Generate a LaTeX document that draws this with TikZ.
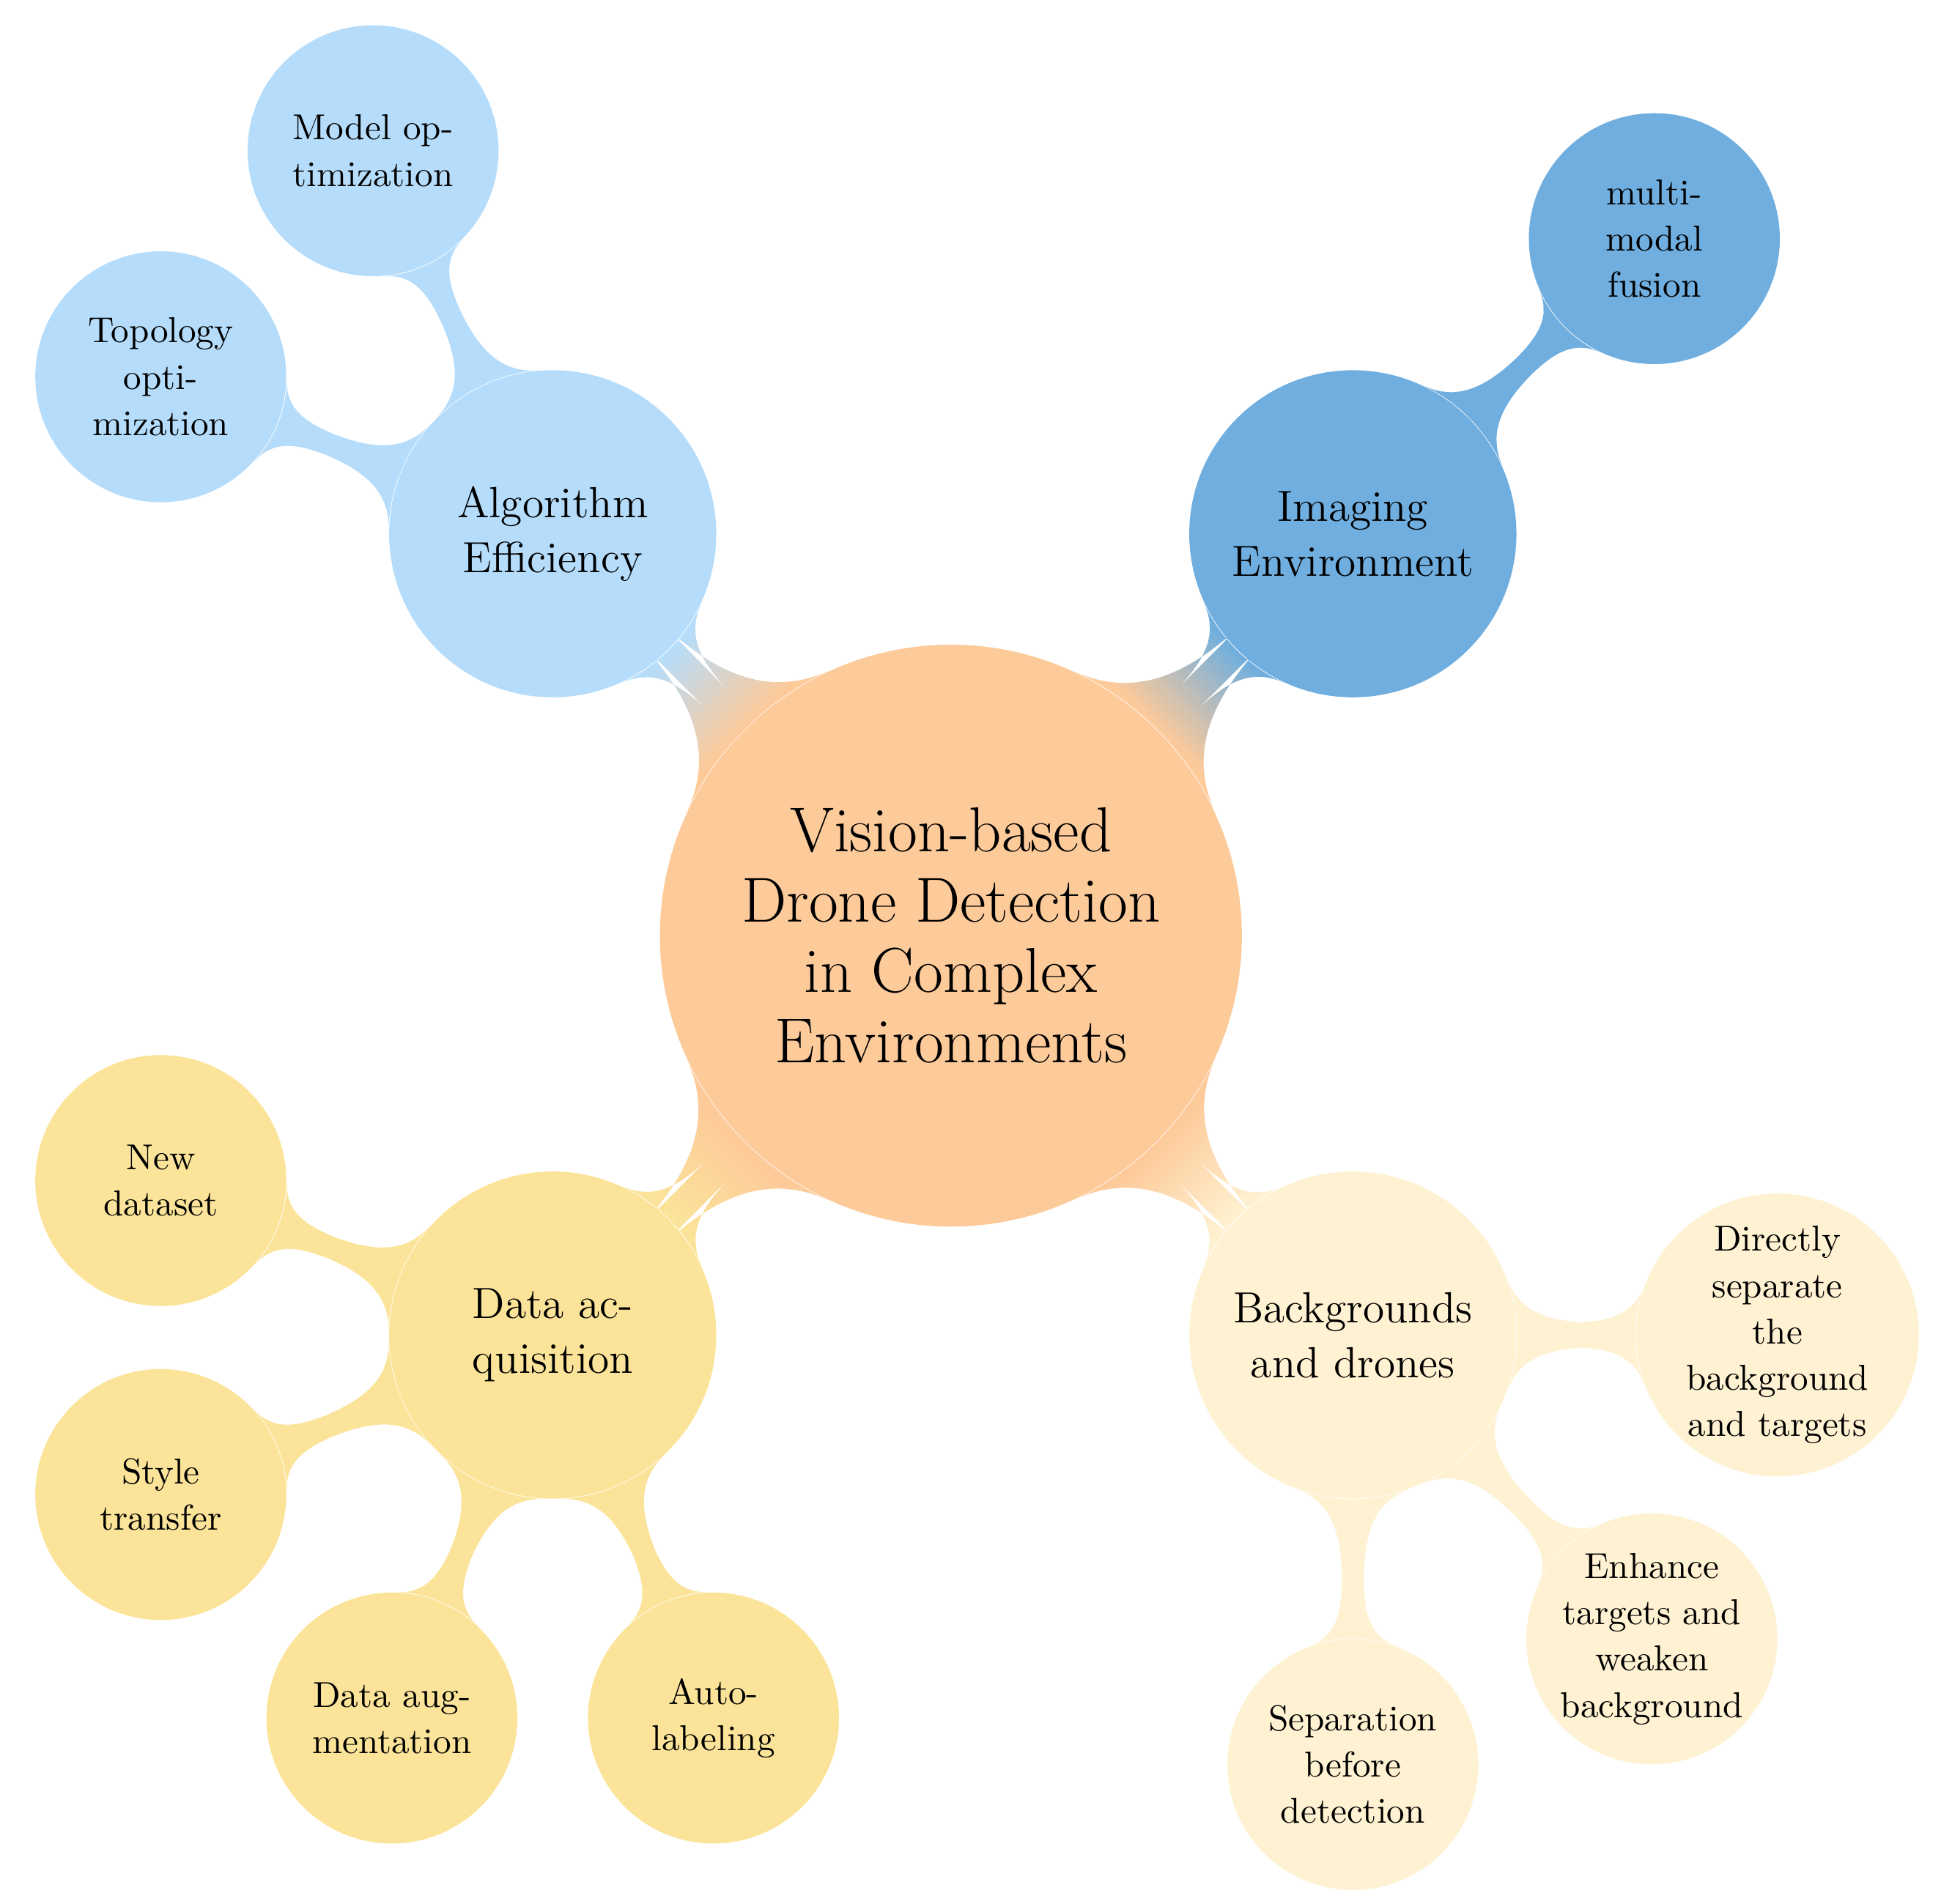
\documentclass[tikz,border=0pt]{standalone}
\usepackage{mathpazo}
\usetikzlibrary{mindmap,backgrounds}
\definecolor{corange}{HTML}{FDCA9A}
\definecolor{cltblue}{HTML}{B5DDFB}
\definecolor{cblue}{HTML}{6FAEDF}
\definecolor{cyel}{HTML}{FBE499}
\definecolor{cpale}{HTML}{FEF2D2}
\tikzset{
 rootc/.style={circle,fill=corange,minimum size=5.96cm,align=center,inner sep=0pt,font=\fontsize{18.5}{20.5}\selectfont},
 lone/.style={circle,minimum size=3.35cm,align=center,inner sep=0pt,font=\fontsize{12.7}{16}\selectfont},
 ltwo/.style={circle,minimum size=2.57cm,align=center,inner sep=0pt,font=\fontsize{10.5}{13.5}\selectfont},
}
\begin{document}
\begin{tikzpicture}[x=0.01287cm,y=-0.01287cm]
\useasboundingbox (0,0) rectangle (1554,1516);
\node[rootc] (root) at (757,745) {Vision-based\\Drone Detection\\in Complex\\Environments};
\node[lone,fill=cltblue] (alg) at (440,425) {Algorithm\\Efficiency};
\node[ltwo,fill=cltblue] (mod) at (297,120) {Model op-\\timization};
\node[ltwo,fill=cltblue] (top) at (128,300) {Topology\\opti-\\mization};
\node[lone,fill=cblue] (img) at (1077,425) {Imaging\\Environment};
\node[ltwo,fill=cblue] (mm) at (1317,190) {multi-\\modal\\fusion};
\node[lone,fill=cyel] (dat) at (440,1063) {Data ac-\\quisition};
\node[ltwo,fill=cyel] (new) at (128,940) {New\\dataset};
\node[ltwo,fill=cyel] (sty) at (128,1190) {Style\\transfer};
\node[ltwo,fill=cyel] (aug) at (312,1368) {Data aug-\\mentation};
\node[ltwo,fill=cyel] (auto) at (568,1368) {Auto-\\labeling};
\node[lone,fill=cpale] (bg) at (1077,1063) {Backgrounds\\and drones};
\node[ltwo,fill=cpale] (dir) at (1415,1063) {Directly\\separate\\the\\background\\and targets};
\node[ltwo,fill=cpale] (enh) at (1315,1305) {Enhance\\targets and\\weaken\\background};
\node[ltwo,fill=cpale] (sep) at (1077,1405) {Separation\\before\\detection};
\begin{pgfonlayer}{background}
\path (root) to[circle connection bar switch color=from (corange) to (cltblue)] (alg);
\path (root) to[circle connection bar switch color=from (corange) to (cblue)] (img);
\path (root) to[circle connection bar switch color=from (corange) to (cyel)] (dat);
\path (root) to[circle connection bar switch color=from (corange) to (cpale)] (bg);
\path (alg) to[circle connection bar switch color=from (cltblue) to (cltblue)] (mod);
\path (alg) to[circle connection bar switch color=from (cltblue) to (cltblue)] (top);
\path (img) to[circle connection bar switch color=from (cblue) to (cblue)] (mm);
\foreach \c in {new,sty,aug,auto}
  \path (dat) to[circle connection bar switch color=from (cyel) to (cyel)] (\c);
\foreach \c in {dir,enh,sep}
  \path (bg) to[circle connection bar switch color=from (cpale) to (cpale)] (\c);
\end{pgfonlayer}
\end{tikzpicture}
\end{document}
